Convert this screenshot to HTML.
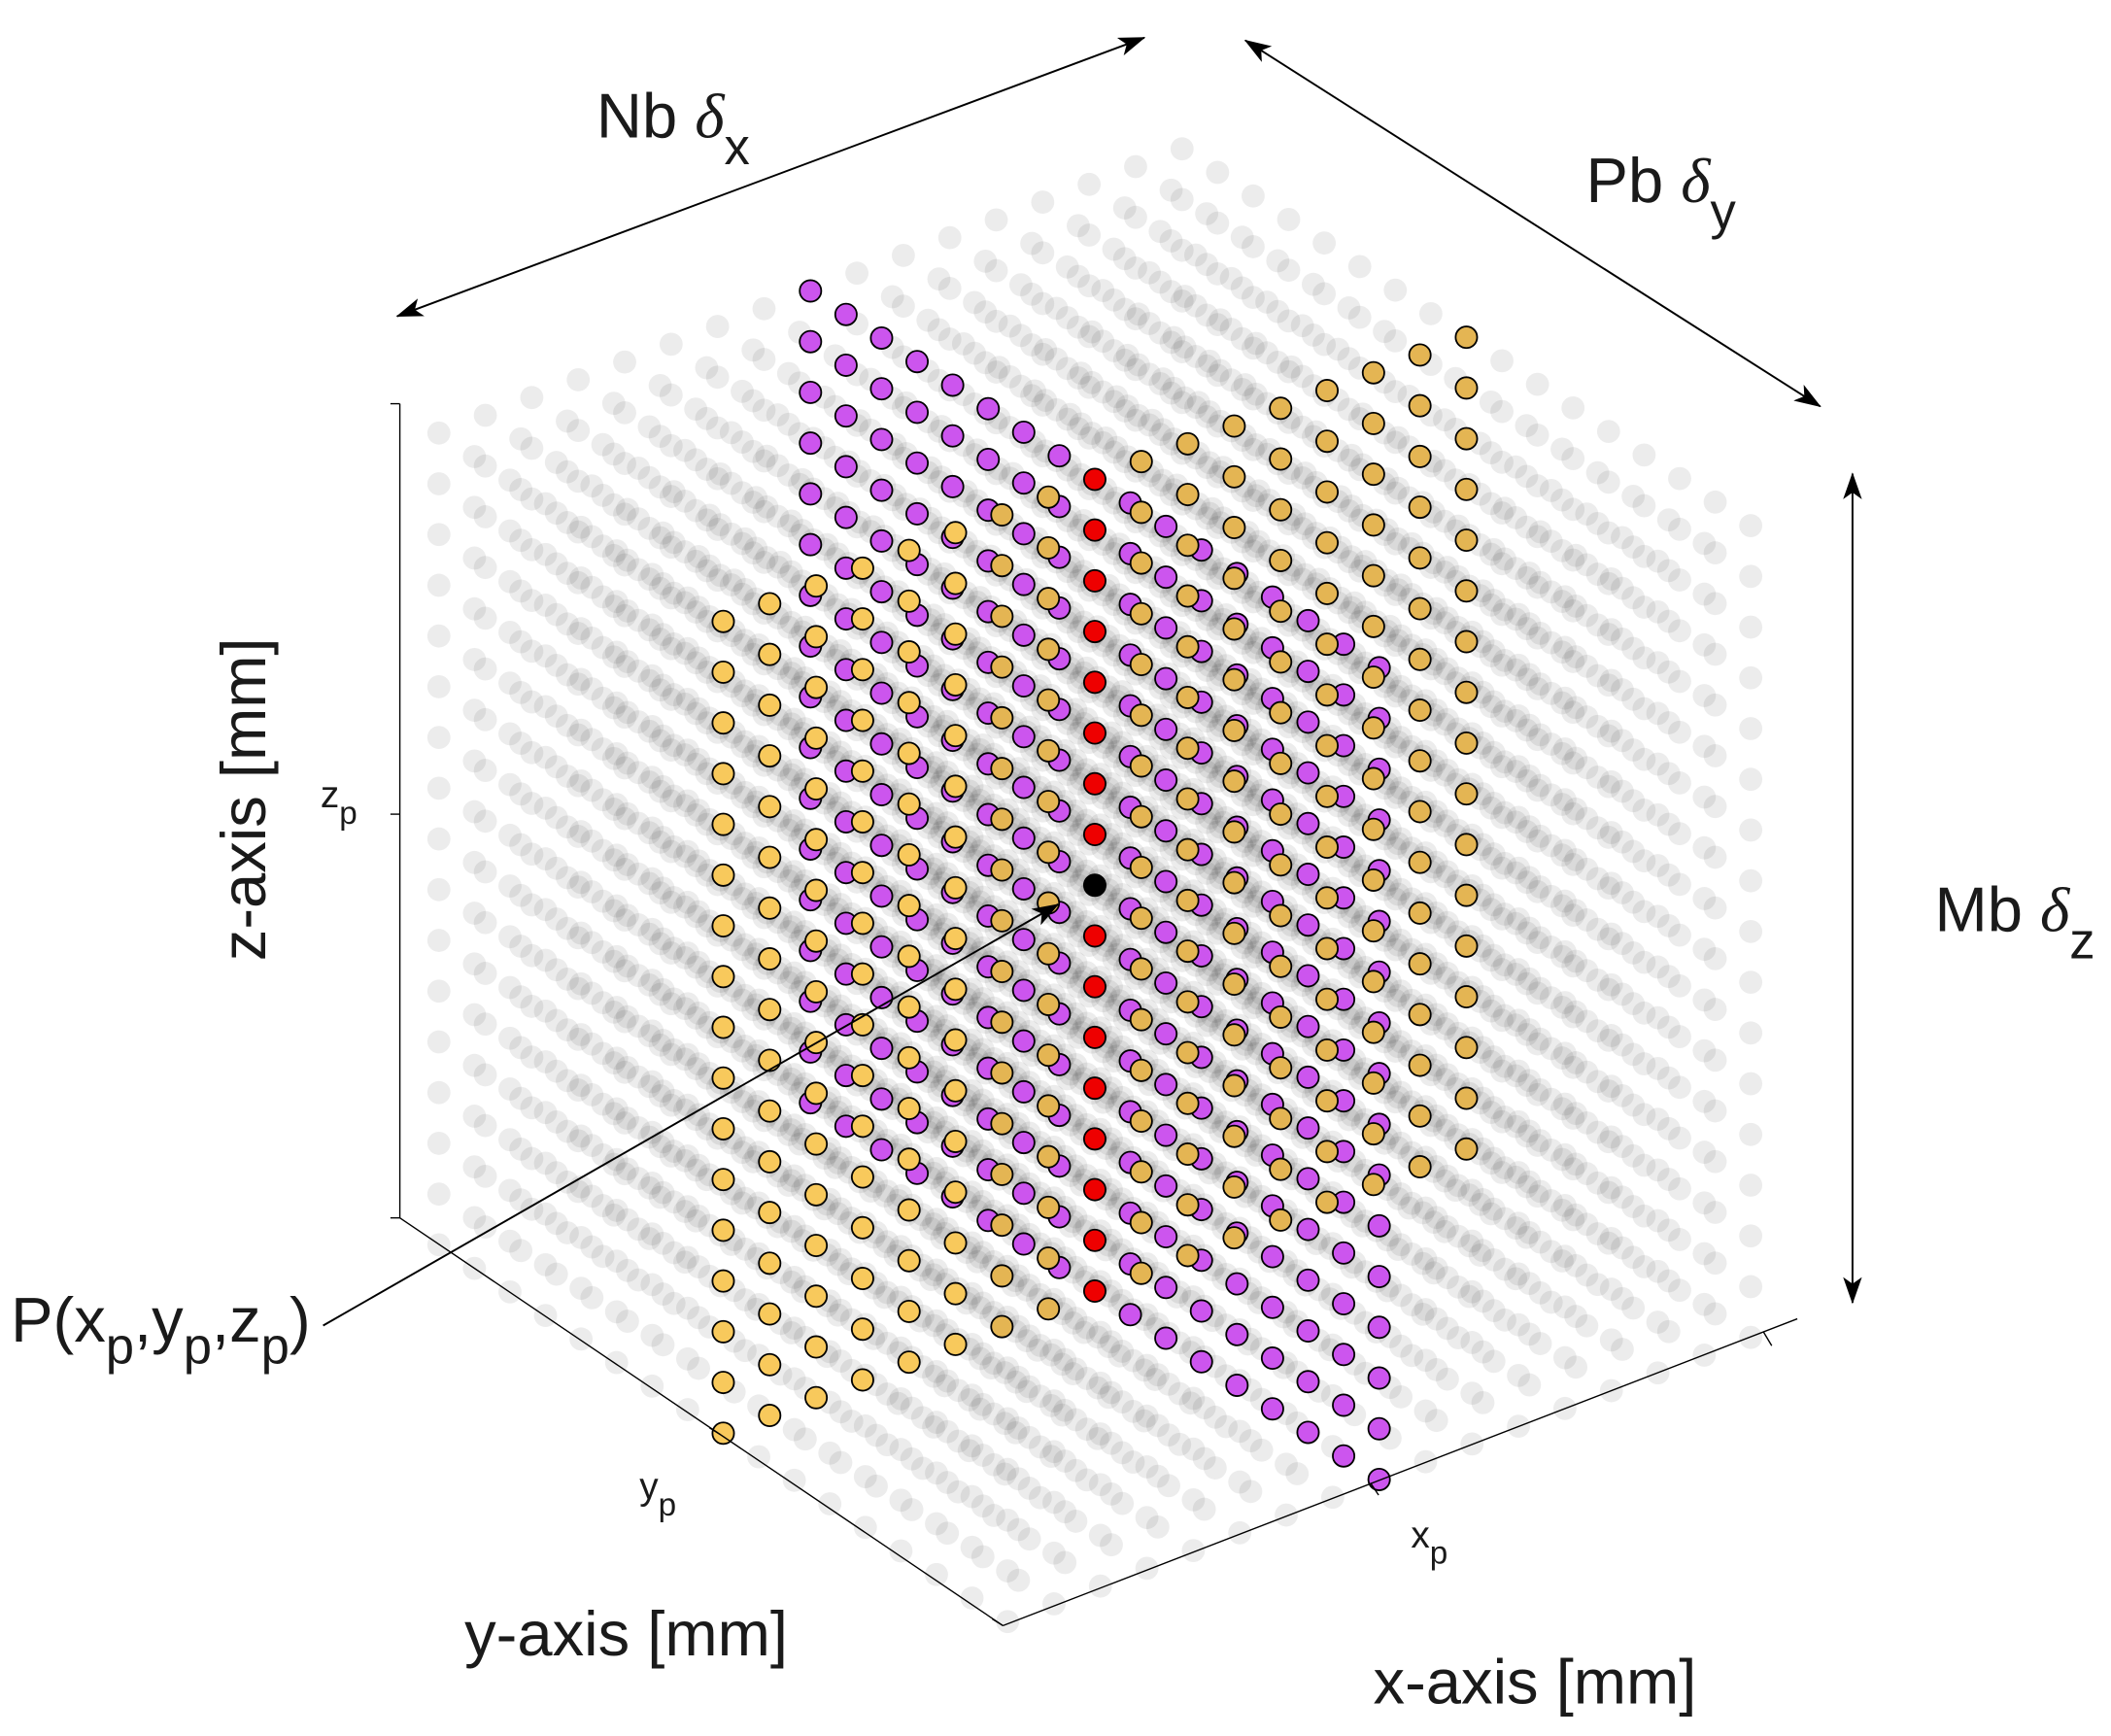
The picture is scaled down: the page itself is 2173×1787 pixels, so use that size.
<!DOCTYPE html>
<html><head><meta charset="utf-8">
<style>
html,body{margin:0;padding:0;background:#fff;}
svg{display:block;}
text{font-family:"Liberation Sans",sans-serif;fill:#1a1a1a;}
.g{font-family:"Liberation Serif",serif;font-style:italic;}
</style></head>
<body>
<svg id="s" width="2173" height="1787" viewBox="0 0 1568 1290" preserveAspectRatio="none" xmlns="http://www.w3.org/2000/svg">
<defs>
<marker id="ah" viewBox="0 0 20 14" refX="19" refY="7" markerWidth="20" markerHeight="14" markerUnits="userSpaceOnUse" orient="auto-start-reverse">
<path d="M0,0 L20,7 L0,14 L5,7 Z" fill="#000"/>
</marker>
</defs>
<g id="grey"></g>
<g id="col"></g>
<g stroke="#000" stroke-width="1" fill="none">
<line x1="297" y1="300" x2="297" y2="905"/>
<line x1="290" y1="300" x2="297" y2="300"/>
<line x1="290" y1="605" x2="297" y2="605"/>
<line x1="290" y1="905" x2="297" y2="905"/>
<line x1="297" y1="905" x2="745" y2="1208"/>
<line x1="745" y1="1208" x2="1335" y2="980"/>
<line x1="745" y1="1208" x2="737" y2="1203"/>
<line x1="527" y1="1061" x2="535" y2="1066"/>
<line x1="1310" y1="990" x2="1316" y2="1000"/>
<line x1="1018" y1="1102" x2="1024" y2="1111"/>
</g>
<g stroke="#000" stroke-width="1.4" fill="none">
<line x1="295" y1="235" x2="850" y2="28" marker-start="url(#ah)" marker-end="url(#ah)"/>
<line x1="925" y1="30" x2="1352" y2="302" marker-start="url(#ah)" marker-end="url(#ah)"/>
<line x1="1376" y1="352" x2="1376" y2="968" marker-start="url(#ah)" marker-end="url(#ah)"/>
<line x1="240" y1="985" x2="786" y2="672" marker-end="url(#ah)"/>
</g>
<text x="443" y="102" font-size="47">Nb <tspan class="g">δ</tspan><tspan font-size="38" dy="20">x</tspan></text>
<text x="1178" y="150" font-size="47">Pb <tspan class="g">δ</tspan><tspan font-size="38" dy="20">y</tspan></text>
<text x="1437" y="692" font-size="47">Mb <tspan class="g">δ</tspan><tspan font-size="38" dy="20">z</tspan></text>
<text x="8" y="997" font-size="47">P(x<tspan font-size="38" dy="16">p</tspan><tspan dy="-16">,y</tspan><tspan font-size="38" dy="16">p</tspan><tspan dy="-16">,z</tspan><tspan font-size="38" dy="16">p</tspan><tspan dy="-16">)</tspan></text>
<text transform="translate(197,594) rotate(-90)" font-size="47" text-anchor="middle">z-axis [mm]</text>
<text x="238" y="600" font-size="28" fill="#333">z<tspan font-size="24" dy="12">p</tspan></text>
<text x="475" y="1114" font-size="28">y<tspan font-size="24" dy="12">p</tspan></text>
<text x="1048" y="1150" font-size="28">x<tspan font-size="24" dy="12">p</tspan></text>
<text x="345" y="1230" font-size="47">y-axis [mm]</text>
<text x="1020" y="1266" font-size="47">x-axis [mm]</text>
</svg>
<script>
(function(){
function P(i,j,k){return [326+34.5*i+26.4*j, 925-13.2*i+17.5*j-37.7*k];}
var grey=document.getElementById("grey"),col=document.getElementById("col");
var h="";
for(var k=0;k<17;k++)for(var j=0;j<17;j++)for(var i=0;i<17;i++){
 var p=P(i,j,k);
 h+='<circle cx="'+p[0].toFixed(1)+'" cy="'+p[1].toFixed(1)+'" r="8.6"/>';
}
grey.setAttribute("fill","#000");grey.setAttribute("fill-opacity","0.075");
grey.innerHTML=h;
var c="";
function dot(p,f){c+='<circle cx="'+p[0].toFixed(1)+'" cy="'+p[1].toFixed(1)+'" r="8" fill="'+f+'" stroke="#000" stroke-width="1.3"/>';}
for(var k=0;k<17;k++)for(var j=0;j<17;j++){if(j==8)continue;dot(P(8,j,k),"#cc55ee");}
for(var k=0;k<17;k++)for(var i=0;i<17;i++){if(i==8)continue;dot(P(i,8,k),i<6?"#f8c95c":"#e4b553");}
for(var k=0;k<17;k++){dot(P(8,8,k),k==8?"#000":"#ee0000");}
col.innerHTML=c;
})();
</script>
</body></html>
